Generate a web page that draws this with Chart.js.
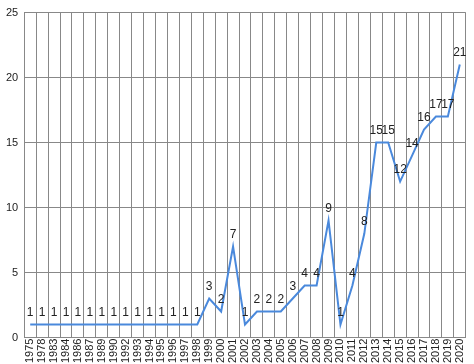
<!DOCTYPE html>
<html lang="en">
<head>
    <meta charset="UTF-8">
    <title>Chart</title>
    <script src="https://cdn.jsdelivr.net/npm/chart.js"></script>
    <style>
        html, body { margin: 0; padding: 0; background: #fff; }
        #wrap { width: 474px; height: 364px; }
    </style>
</head>
<body>
<div id="wrap"><canvas id="chart"></canvas></div>
<script>
    const anos = ['1975', '1978', '1983', '1984', '1986', '1987', '1989', '1990', '1992', '1993',
        '1994', '1995', '1996', '1997', '1998', '1999', '2000', '2001', '2002', '2003',
        '2004', '2005', '2006', '2007', '2008', '2009', '2010', '2011', '2012', '2013',
        '2014', '2015', '2016', '2017', '2018', '2019', '2020'];
    const valores = [1, 1, 1, 1, 1, 1, 1, 1, 1, 1,
        1, 1, 1, 1, 1, 3, 2, 7, 1, 2,
        2, 2, 3, 4, 4, 9, 1, 4, 8, 15,
        15, 12, 14, 16, 17, 17, 21];

    // rótulos de valor acima de cada ponto
    const rotulos = {
        id: 'rotulos',
        afterDatasetsDraw(chart) {
            const ctx = chart.ctx;
            const meta = chart.getDatasetMeta(0);
            ctx.save();
            ctx.font = '12px Arial, "Liberation Sans", sans-serif';
            ctx.fillStyle = '#222';
            ctx.textAlign = 'center';
            ctx.textBaseline = 'bottom';
            meta.data.forEach((pt, i) => {
                ctx.fillText(String(valores[i]), pt.x, pt.y - 6);
            });
            ctx.restore();
        }
    };

    new Chart(document.getElementById('chart'), {
        type: 'line',
        data: {
            labels: anos,
            datasets: [{
                data: valores,
                borderColor: '#4a89dc',
                borderWidth: 2,
                pointRadius: 0,
                tension: 0,
                fill: false
            }]
        },
        options: {
            responsive: true,
            maintainAspectRatio: false,
            animation: false,
            layout: { padding: { top: 6, right: 0, left: 0, bottom: 0 } },
            plugins: { legend: { display: false }, tooltip: { enabled: false } },
            scales: {
                x: {
                    offset: true,
                    grid: { offset: true, color: '#888', lineWidth: 1, drawTicks: false },
                    border: { color: '#888' },
                    ticks: {
                        autoSkip: false,
                        minRotation: 90,
                        maxRotation: 90,
                        padding: 1,
                        color: '#222',
                        font: { family: 'Arial, "Liberation Sans", sans-serif', size: 11 }
                    }
                },
                y: {
                    min: 0,
                    max: 25,
                    grid: { color: '#888', lineWidth: 1, drawTicks: false },
                    border: { color: '#888' },
                    ticks: {
                        stepSize: 5,
                        padding: 6,
                        color: '#222',
                        font: { family: 'Arial, "Liberation Sans", sans-serif', size: 11 }
                    }
                }
            }
        },
        plugins: [rotulos]
    });
</script>
</body>
</html>
